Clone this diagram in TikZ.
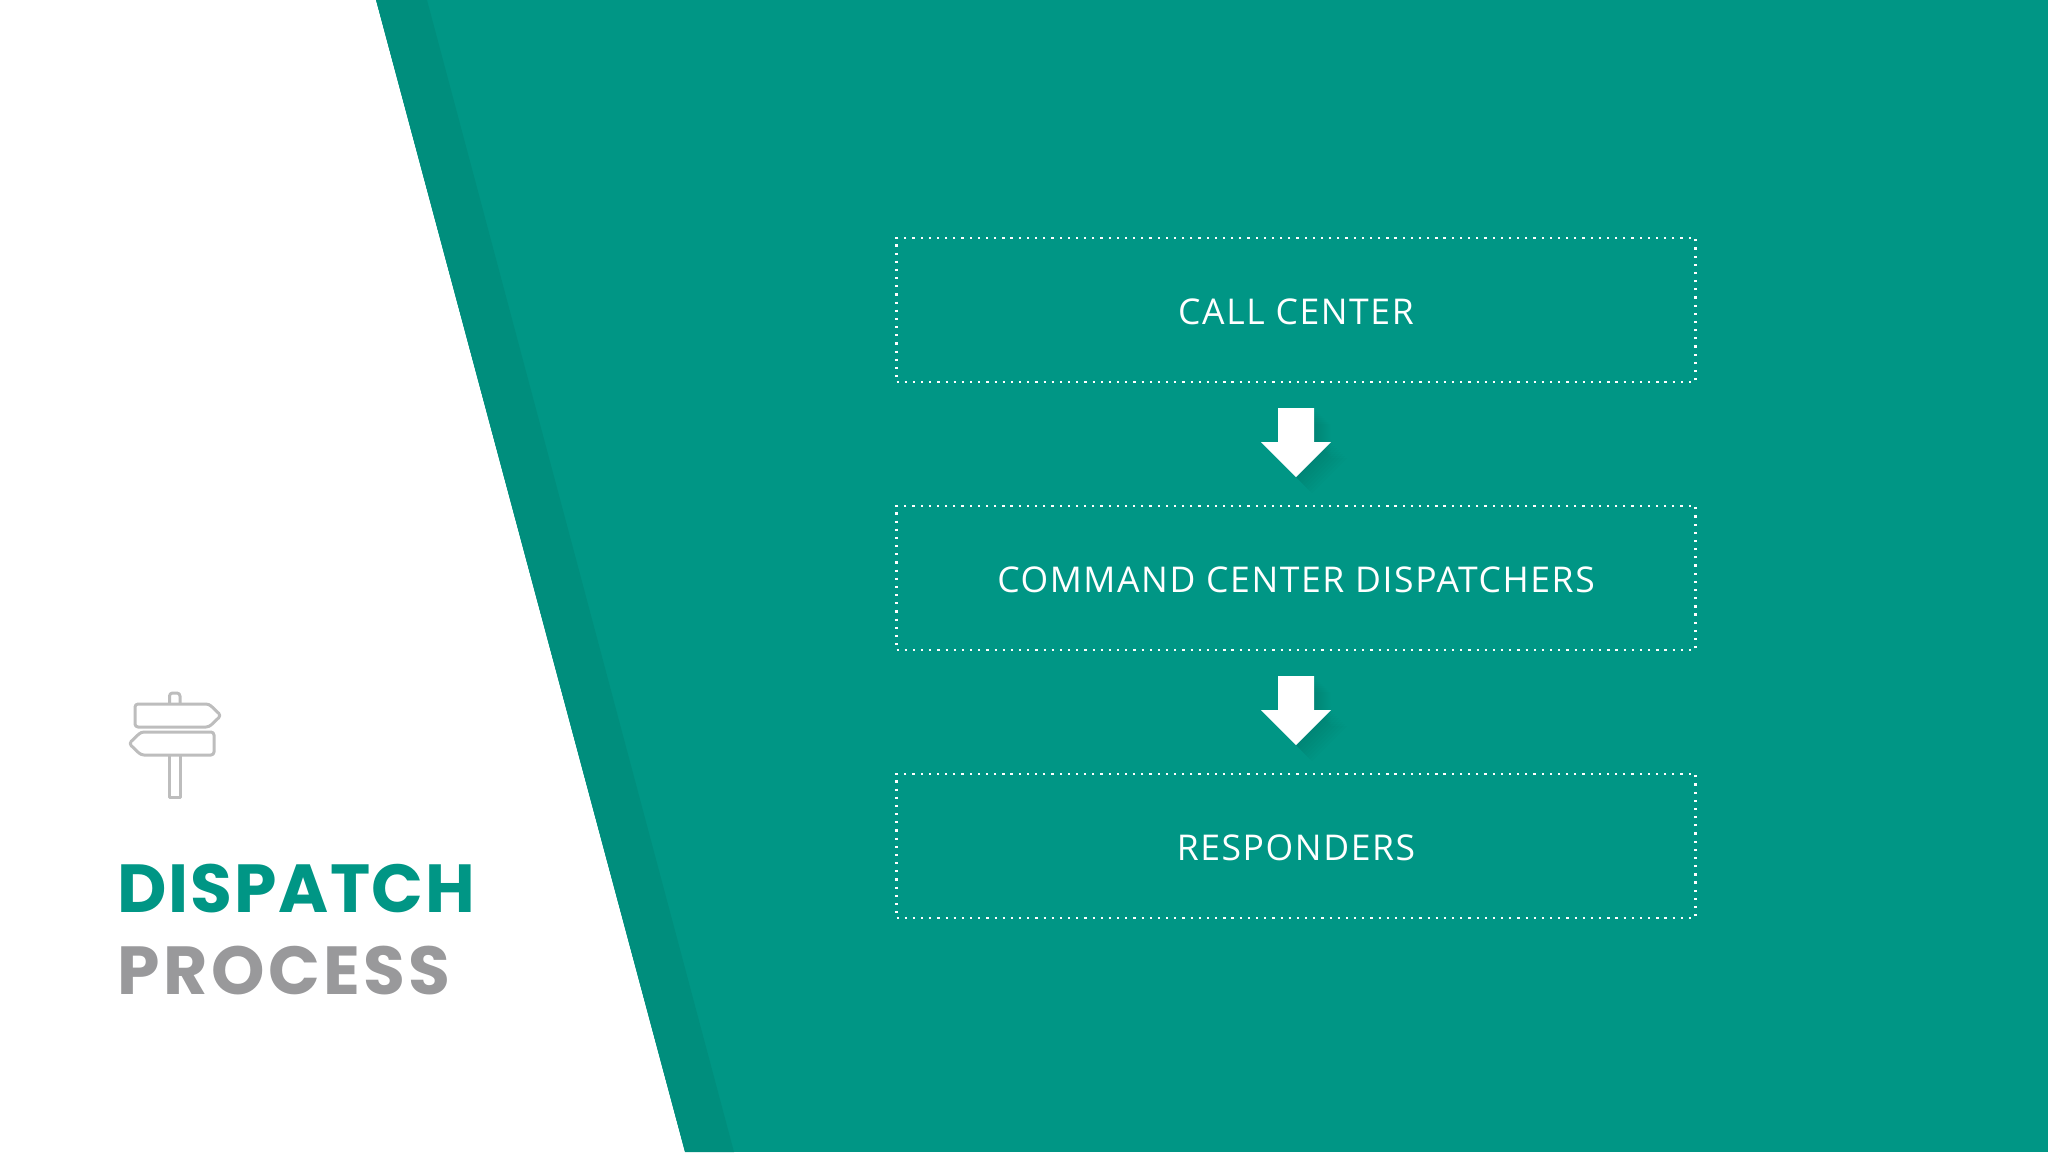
\documentclass[tikz,border=0pt]{standalone}
\usepackage{fontspec}
\setmainfont{Open Sans}
\newfontfamily\titlefont[LetterSpace=2.5]{Poppins Bold}
\newfontfamily\titlefontwide[LetterSpace=5]{Poppins Bold}
\newfontfamily\boxfont[LetterSpace=4.5]{Open Sans}
\usetikzlibrary{calc}
\definecolor{tealmain}{HTML}{009685}
\definecolor{tealband}{HTML}{008E7D}
\definecolor{tealshadow}{HTML}{006F62}
\definecolor{titlegray}{HTML}{99999B}
\definecolor{signgray}{HTML}{BDBDBD}
\tikzset{
  stepbox/.style={draw=white,line width=2.2pt,dash pattern=on 2.2pt off 5.97pt,minimum width=799pt,minimum height=144pt,inner sep=0pt,text=white,text height=28pt,text depth=0pt,font=\fontsize{35.5}{42}\boxfont},
  titletext/.style={anchor=base west,inner sep=0pt},
  signline/.style={draw=signgray,line width=3pt,line join=round},
  blockarrow/.pic={
    \foreach \i in {2,4,...,16}{
      \fill[tealshadow,opacity=.045,shift={(\i pt,-\i pt)}] (-18,0) -- (18,0) -- (18,34) -- (35,34) -- (0,69) -- (-35,34) -- (-18,34) -- cycle;
    }
    \fill[white] (-18,0) -- (18,0) -- (18,34) -- (35,34) -- (0,69) -- (-35,34) -- (-18,34) -- cycle;
  }
}
\begin{document}
\begin{tikzpicture}[x=1pt,y=-1pt]
\useasboundingbox (0,0) rectangle (2048,1152);
\fill[tealmain] (0,0) rectangle (2048,1152);
\fill[white] (0,0) -- (376,0) -- (685,1152) -- (0,1152) -- cycle;
\fill[tealband] (376,0) -- (427,0) -- (734,1152) -- (685,1152) -- cycle;
\node[stepbox] (call) at (1296,310) {CALL CENTER};
\node[stepbox] (command) at (1296,578) {COMMAND CENTER DISPATCHERS};
\node[stepbox] (responders) at (1296,846) {RESPONDERS};
\coordinate (a1) at ($(call.south)+(0,25)$);
\coordinate (a2) at ($(command.south)+(0,25)$);
\pic at (a1) {blockarrow};
\pic at (a2) {blockarrow};
\draw[signline,rounded corners=3pt] (169.5,704) -- (169.5,693) -- (180,693) -- (180,704);
\draw[signline,rounded corners=3pt] (135,704) -- (209,704) -- (221,715.5) -- (209,727) -- (135,727) -- cycle;
\draw[signline,rounded corners=3pt] (214,732) -- (141,732) -- (129,743.5) -- (141,755) -- (214,755) -- cycle;
\draw[signline] (169.5,755) -- (169.5,797) -- (180,797) -- (180,755);
\node[titletext,text=tealmain,font=\fontsize{68}{80}\titlefont] (dispatch) at (117.5,912) {DISPATCH};
\node[titletext,text=titlegray,font=\fontsize{68}{80}\titlefontwide] (process) at (117.5,994) {PROCESS};
\end{tikzpicture}
\end{document}
